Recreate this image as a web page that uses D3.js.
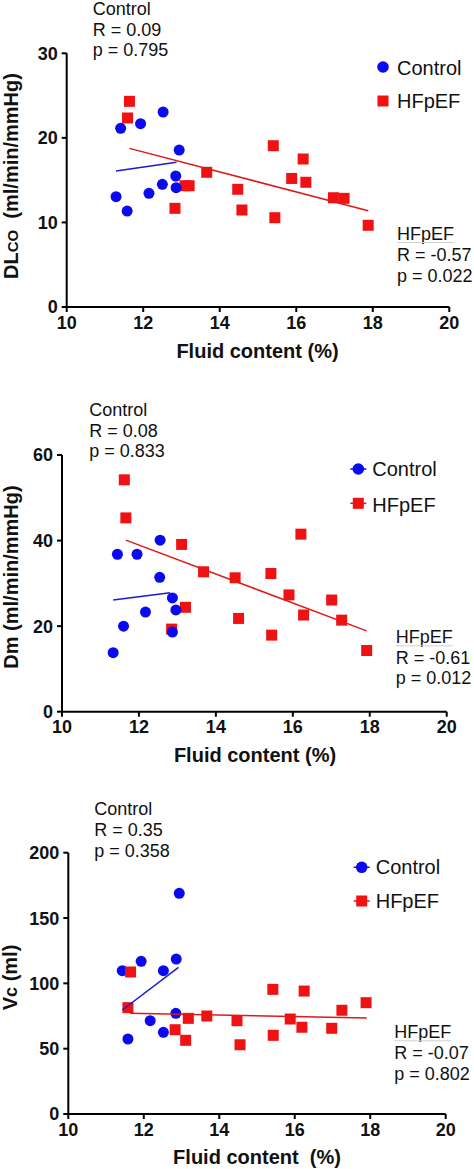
<!DOCTYPE html>
<html>
<head>
<meta charset="utf-8">
<script src="https://cdn.jsdelivr.net/npm/d3@7"></script>
<style>
  body { margin: 0; background: #fff; }
  svg { display: block; }
</style>
</head>
<body>
<script>
// x axis ticks (fluid content, %) - same for all three panels
var xTicks = [10, 12, 14, 16, 18, 20];

// DLCO panel
var dlcoTicks = [0, 10, 20, 30];
var dlcoControl = [[11.41,21.13],[11.93,21.68],[12.52,23.06],[12.94,18.56],[11.29,13.04],
                   [11.58,11.35],[12.15,13.44],[12.50,14.51],[12.85,15.49],[12.86,14.11]];
var dlcoHfpef = [[11.64,24.32],[11.59,22.35],[15.40,19.07],[16.18,17.50],[13.66,15.93],[15.88,15.20],
                 [16.25,14.75],[13.09,14.34],[13.20,14.34],[14.47,13.92],[12.83,11.67],[14.58,11.47],
                 [15.44,10.56],[16.97,12.92],[17.25,12.85],[17.88,9.66]];
var dlcoControlFit = [[11.29,16.08],[12.87,17.11]];
var dlcoHfpefFit = [[11.64,18.76],[17.88,11.39]];
var dlcoControlStats = ["Control", "R = 0.09", "p = 0.795"];
var dlcoHfpefStats = ["HFpEF", "R = -0.57", "p = 0.022"];

// Dm panel
var dmTicks = [0, 20, 40, 60];
var dmControl = [[12.55,40.1],[11.44,36.8],[11.95,36.8],[12.54,31.4],[12.87,26.6],
                 [12.96,23.8],[12.17,23.3],[11.60,20.0],[12.87,18.6],[11.33,13.8]];
var dmHfpef = [[11.62,54.2],[11.66,45.3],[13.11,39.1],[16.21,41.5],[13.68,32.7],[14.50,31.3],
               [15.43,32.3],[15.90,27.3],[17.01,26.1],[13.21,24.4],[16.28,22.6],[17.27,21.4],
               [14.59,21.8],[12.85,19.3],[15.45,17.9],[17.92,14.3]];
var dmControlFit = [[11.33,26.1],[12.81,27.8]];
var dmHfpefFit = [[11.66,40.1],[17.92,18.9]];
var dmControlStats = ["Control", "R = 0.08", "p = 0.833"];
var dmHfpefStats = ["HFpEF", "R = -0.61", "p = 0.012"];

// Vc panel
var vcTicks = [0, 50, 100, 150, 200];
var vcControl = [[12.94,168.9],[11.93,116.9],[12.86,118.6],[11.43,109.7],[12.52,109.7],
                 [12.85,77.1],[12.17,71.4],[12.52,62.5],[11.58,57.4]];
var vcHfpef = [[11.65,108.7],[15.42,95.4],[16.25,94.1],[17.89,85.2],[17.25,79.4],[11.58,81.4],
               [13.67,75.0],[13.18,73.2],[14.47,71.4],[15.88,72.7],[16.19,66.4],[16.98,65.6],
               [12.83,64.5],[15.43,60.2],[13.11,56.4],[14.55,53.0]];
var vcControlFit = [[11.43,79.6],[12.92,112.3]];
var vcHfpefFit = [[11.64,77.1],[17.91,73.5]];
var vcControlStats = ["Control", "R = 0.35", "p = 0.358"];
var vcHfpefStats = ["HFpEF", "R = -0.07", "p = 0.802"];

var legendNames = ["Control", "HFpEF"];

var FONT = "'Liberation Sans', Arial, Helvetica, sans-serif";
var BLUE = "#0a0af0";
var RED = "#f01212";

var panels = [
  { yTicks: dlcoTicks, control: dlcoControl, hfpef: dlcoHfpef, controlFit: dlcoControlFit, hfpefFit: dlcoHfpefFit,
    controlStats: dlcoControlStats, hfpefStats: dlcoHfpefStats,
    ylab: [["DL", 20], ["CO", 15]], xlab: "Fluid content (%)",
    left: 66.7, right: 449.3, top: 53.3, bottom: 307,
    ylabX: 18, ylabY: 176, xlabX: 257.5, xlabY: 358,
    legX: 383, legTextX: 397, legY: [67, 101], legBase: [75, 108.3], stub: false,
    cStatX: 92.7, cStatY: [15, 35.5, 56], hStatX: 397, hStatY: [240, 261, 282],
    controlOnTop: true },
  { yTicks: dmTicks, control: dmControl, hfpef: dmHfpef, controlFit: dmControlFit, hfpefFit: dmHfpefFit,
    controlStats: dmControlStats, hfpefStats: dmHfpefStats,
    ylab: [["Dm (ml/min/mmHg)", 20]], xlab: "Fluid content (%)",
    left: 62, right: 446.7, top: 455, bottom: 711.7,
    ylabX: 18, ylabY: 577, xlabX: 255, xlabY: 761.7,
    legX: 358.3, legTextX: 372.3, legY: [469, 503.3], legBase: [476, 511.7], stub: true,
    cStatX: 89.3, cStatY: [416, 436.7, 457.3], hStatX: 395.7, hStatY: [643.3, 664, 684],
    controlOnTop: true },
  { yTicks: vcTicks, control: vcControl, hfpef: vcHfpef, controlFit: vcControlFit, hfpefFit: vcHfpefFit,
    controlStats: vcControlStats, hfpefStats: vcHfpefStats,
    ylab: [["V", 20], ["c", 18], [" (ml)", 20]], xlab: "Fluid content  (%)",
    left: 68.3, right: 445.7, top: 852.7, bottom: 1114,
    ylabX: 17, ylabY: 977.5, xlabX: 257, xlabY: 1164,
    legX: 361.7, legTextX: 375.7, legY: [867.3, 901], legBase: [874.3, 908.3], stub: true,
    cStatX: 94.3, cStatY: [815, 836, 856.7], hStatX: 394.3, hStatY: [1038.3, 1059.3, 1080],
    controlOnTop: false }
];

var svg = d3.select("body").append("svg")
  .attr("width", 474)
  .attr("height", 1169);

function drawCircles(g, data, x, y) {
  g.selectAll(null)
    .data(data)
    .enter()
    .append("circle")
    .attr("cx", function(d) { return x(d[0]); })
    .attr("cy", function(d) { return y(d[1]); })
    .attr("r", 5.5)
    .attr("fill", BLUE);
}

function drawSquares(g, data, x, y) {
  g.selectAll(null)
    .data(data)
    .enter()
    .append("rect")
    .attr("x", function(d) { return x(d[0]) - 5.5; })
    .attr("y", function(d) { return y(d[1]) - 5.5; })
    .attr("width", 11)
    .attr("height", 11)
    .attr("fill", RED);
}

function drawFit(g, data, x, y, color) {
  g.append("path")
    .datum(data)
    .attr("d", d3.line().x(function(d) { return x(d[0]); }).y(function(d) { return y(d[1]); }))
    .attr("fill", "none")
    .attr("stroke", color)
    .attr("stroke-width", 1.5);
}

function statBlock(g, lines, px, baselines, underline) {
  lines.forEach(function(t, i) {
    var txt = g.append("text")
      .attr("x", px)
      .attr("y", baselines[i])
      .attr("font-family", FONT)
      .attr("font-size", 18)
      .attr("fill", "#111")
      .text(t);
    if (underline && i === 0) {
      var w = txt.node().getComputedTextLength();
      g.append("line")
        .attr("x1", px).attr("x2", px + w)
        .attr("y1", baselines[i] + 2.5).attr("y2", baselines[i] + 2.5)
        .attr("stroke", "#cfcfcf")
        .attr("stroke-width", 1);
    }
  });
}

panels.forEach(function(p) {
  var x = d3.scaleLinear().domain([10, 20]).range([p.left, p.right]);
  var y = d3.scaleLinear().domain([0, d3.max(p.yTicks)]).range([p.bottom, p.top]);
  var g = svg.append("g");

  // axes
  var xAxis = g.append("g")
    .attr("transform", "translate(0," + p.bottom + ")")
    .call(d3.axisBottom(x).tickValues(xTicks).tickSize(5).tickPadding(4).tickSizeOuter(0).offset(0));
  var yAxis = g.append("g")
    .attr("transform", "translate(" + p.left + ",0)")
    .call(d3.axisLeft(y).tickValues(p.yTicks).tickSize(5).tickPadding(4).tickSizeOuter(0).offset(0));

  [xAxis, yAxis].forEach(function(a) {
    a.attr("font-family", FONT).attr("font-size", 18).attr("font-weight", "bold");
    a.selectAll("path, line").attr("stroke", "#000").attr("stroke-width", 2);
    a.selectAll("text").attr("fill", "#111");
  });
  yAxis.selectAll("text").attr("dy", "0.36em");

  // axis titles
  var yl = g.append("text")
    .attr("transform", "translate(" + p.ylabX + "," + p.ylabY + ") rotate(-90)")
    .attr("text-anchor", "middle")
    .attr("font-family", FONT)
    .attr("font-weight", "bold")
    .attr("fill", "#111")
    .style("white-space", "pre");
  p.ylab.forEach(function(part) {
    yl.append("tspan").attr("font-size", part[1]).text(part[0]);
  });
  if (p.ylab.length === 2) {
    yl.append("tspan").attr("font-size", 20).text("  (ml/min/mmHg)");
  }

  g.append("text")
    .attr("x", p.xlabX)
    .attr("y", p.xlabY)
    .attr("text-anchor", "middle")
    .attr("font-family", FONT)
    .attr("font-weight", "bold")
    .attr("font-size", 20)
    .attr("fill", "#111")
    .style("white-space", "pre")
    .text(p.xlab);

  // data
  if (p.controlOnTop) {
    drawSquares(g, p.hfpef, x, y);
    drawCircles(g, p.control, x, y);
  } else {
    drawCircles(g, p.control, x, y);
    drawSquares(g, p.hfpef, x, y);
  }
  drawFit(g, p.controlFit, x, y, "#1a1ad0");
  drawFit(g, p.hfpefFit, x, y, "#e01818");

  // legend
  var colors = [BLUE, RED];
  legendNames.forEach(function(name, i) {
    var cy = p.legY[i];
    if (p.stub) {
      g.append("line")
        .attr("x1", p.legX - 8).attr("x2", p.legX + 8)
        .attr("y1", cy).attr("y2", cy)
        .attr("stroke", colors[i]).attr("stroke-width", 1.5);
    }
    if (i === 0) {
      g.append("circle").attr("cx", p.legX).attr("cy", cy).attr("r", 5.8).attr("fill", BLUE);
    } else {
      g.append("rect").attr("x", p.legX - 5.5).attr("y", cy - 5.5)
        .attr("width", 11).attr("height", 11).attr("fill", RED);
    }
    g.append("text")
      .attr("x", p.legTextX)
      .attr("y", p.legBase[i])
      .attr("font-family", FONT)
      .attr("font-size", 20)
      .attr("fill", "#111")
      .text(name);
  });

  // correlation annotations
  statBlock(g, p.controlStats, p.cStatX, p.cStatY, false);
  statBlock(g, p.hfpefStats, p.hStatX, p.hStatY, true);
});
</script>
</body>
</html>
